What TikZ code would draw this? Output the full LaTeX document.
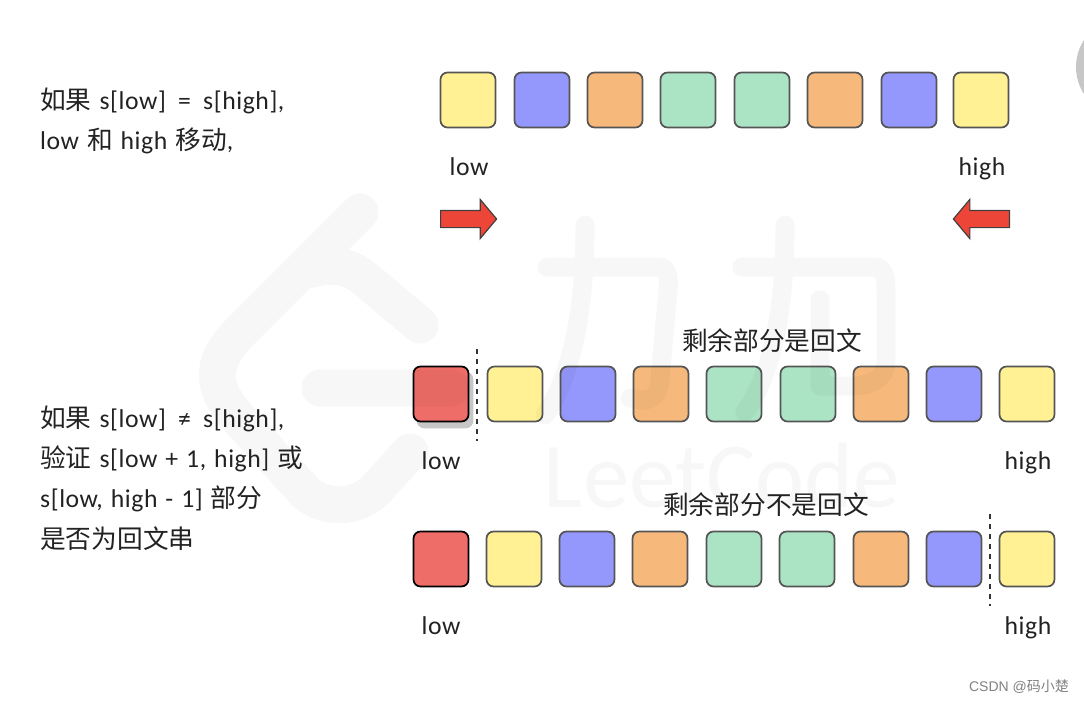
\documentclass[tikz,border=0pt]{standalone}
\usepackage{fontspec}
\setmainfont{Carlito}[LetterSpace=2.2,WordSpace=1.25]
\newfontfamily\cjk{Noto Sans CJK SC}
\newfontfamily\brandfont{Liberation Sans}
\usetikzlibrary{shapes.arrows}
\definecolor{cellYellow}{HTML}{FFF194}
\definecolor{cellBlue}{HTML}{9497FB}
\definecolor{cellOrange}{HTML}{F6B97B}
\definecolor{cellGreen}{HTML}{AAE4C4}
\definecolor{cellRed}{HTML}{EE6D68}
\definecolor{arrowRed}{HTML}{EE4539}
\definecolor{borderGrey}{HTML}{555555}
\definecolor{textDark}{HTML}{222222}
\begin{document}
\begin{tikzpicture}
[x=1pt,y=-1pt,
  cellDecorate/.style={draw=borderGrey,line width=1.7pt,rounded corners=7pt,minimum size=55pt,inner sep=0pt},%
  hotDecorate/.style={cellDecorate,draw=black,fill=cellRed},%
  textDecorate/.style={text=textDark,font=\fontsize{25.7}{25.7}\selectfont,inner sep=0pt,anchor=base},%
  arrowDecorate/.style={draw=black!75,line width=1.2pt,fill=arrowRed,shape=single arrow,minimum height=56pt,minimum width=39pt,single arrow head extend=11pt,inner sep=8pt,single arrow tip angle=100},%
  cutDecorate/.style={dash pattern=on 5pt off 5pt,line width=2pt,black!80},%
  markDecorate/.style={black,opacity=0.03,line cap=round,line join=round}]
\useasboundingbox (0,0) rectangle (1084,704);
\node (corner) at (1126,67) [shape=circle,fill=black!22,minimum size=100pt,inner sep=0pt] {};
%% cells of the three rows
\node (shade) at (445,400) [cellDecorate,draw=black!22,fill=black!22] {};
\foreach \nodename/\x/\y/\tone in {
  a1/468/100/cellYellow, a2/542/100/cellBlue, a3/615/100/cellOrange, a4/688/100/cellGreen,
  a5/762/100/cellGreen, a6/835/100/cellOrange, a7/909/100/cellBlue, a8/981/100/cellYellow,
  b2/515/394/cellYellow, b3/588/394/cellBlue, b4/661/394/cellOrange,
  b5/734/394/cellGreen, b6/808/394/cellGreen, b7/881/394/cellOrange, b8/954/394/cellBlue, b9/1027/394/cellYellow,
  c2/514/559/cellYellow, c3/587/559/cellBlue, c4/660/559/cellOrange,
  c5/734/559/cellGreen, c6/807/559/cellGreen, c7/881/559/cellOrange, c8/954/559/cellBlue, c9/1027/559/cellYellow}
{
  \node (\nodename) at (\x,\y) [cellDecorate,fill=\tone] {};
}
\node (b1) at (441,394) [hotDecorate] {};
\node (c1) at (441,559) [hotDecorate] {};
%% watermark lies over the cells
\draw[markDecorate,line width=37pt]
  (360,212) -- (240,332) .. controls (205,367) and (215,392) .. (240,420) -- (305,492)
  .. controls (325,510) and (360,510) .. (380,485) -- (410,452)
  (300,272) .. controls (335,262) and (350,265) .. (370,283) -- (420,325)
  (320,388) -- (452,388);
\draw[markDecorate,line width=19pt]
  (547,267) -- (660,267) .. controls (670,267) and (669,285) .. (667,300) -- (660,380) .. controls (658,402) and (645,402) .. (630,398)
  (585,225) .. controls (585,300) and (575,370) .. (545,415)
  (742,267) -- (875,267) .. controls (885,267) and (886,280) .. (886,290) -- (886,360) .. controls (886,380) and (870,386) .. (850,386) -- (820,386) -- (820,300)
  (785,225) .. controls (785,300) and (775,370) .. (745,412);
\node (markName) at (722,507) [anchor=base,inner sep=0pt,black,opacity=0.03,font=\fontsize{93}{93}\selectfont\addfontfeatures{LetterSpace=0}] {LeetCode};
%% arrows
\node (moveRight) at (465,219) [arrowDecorate] {};
\node (moveLeft) at (985,219) [arrowDecorate,shape border rotate=180] {};
%% cuts
\coordinate (cutTop) at (477,349);
\coordinate (cutEnd) at (477,441);
\coordinate (cutTopB) at (990,514);
\coordinate (cutEndB) at (990,606);
\draw[cutDecorate] (cutTop) -- (cutEnd);
\draw[cutDecorate] (cutTopB) -- (cutEndB);
%% texts
\foreach \nodename/\x/\y/\words in {
  lowA/469/175/low, highA/982/175/high, lowB/441/469/low, highB/1028/469/high,
  lowC/441/634/low, highC/1028/634/high, restGood/772/350/{\cjk 剩余部分是回文}, restBad/766/514/{\cjk 剩余部分不是回文}}
{
  \node (\nodename) at (\x,\y) [textDecorate] {\words};
}
\foreach \nodename/\y/\words in {
  noteA/109/{\cjk 如果} s[low] \,=\, s[high]{,}, noteB/149/low {\cjk 和} high {\cjk 移动}{,},
  noteC/427/{\cjk 如果} s[low] \,≠\, s[high]{,}, noteD/467/{\cjk 验证} s[low + 1{,} high] {\cjk 或},
  noteE/507/s[low{,} high - 1] {\cjk 部分}, noteF/548/{\cjk 是否为回文串}}
{
  \node (\nodename) at (40,\y) [textDecorate,anchor=base west] {\words};
}
\node (brand) at (1019,687) [text=black!50,font=\fontsize{14}{14}\selectfont,inner sep=0pt] {\brandfont CSDN @\cjk 码小楚};
\end{tikzpicture}
\end{document}
